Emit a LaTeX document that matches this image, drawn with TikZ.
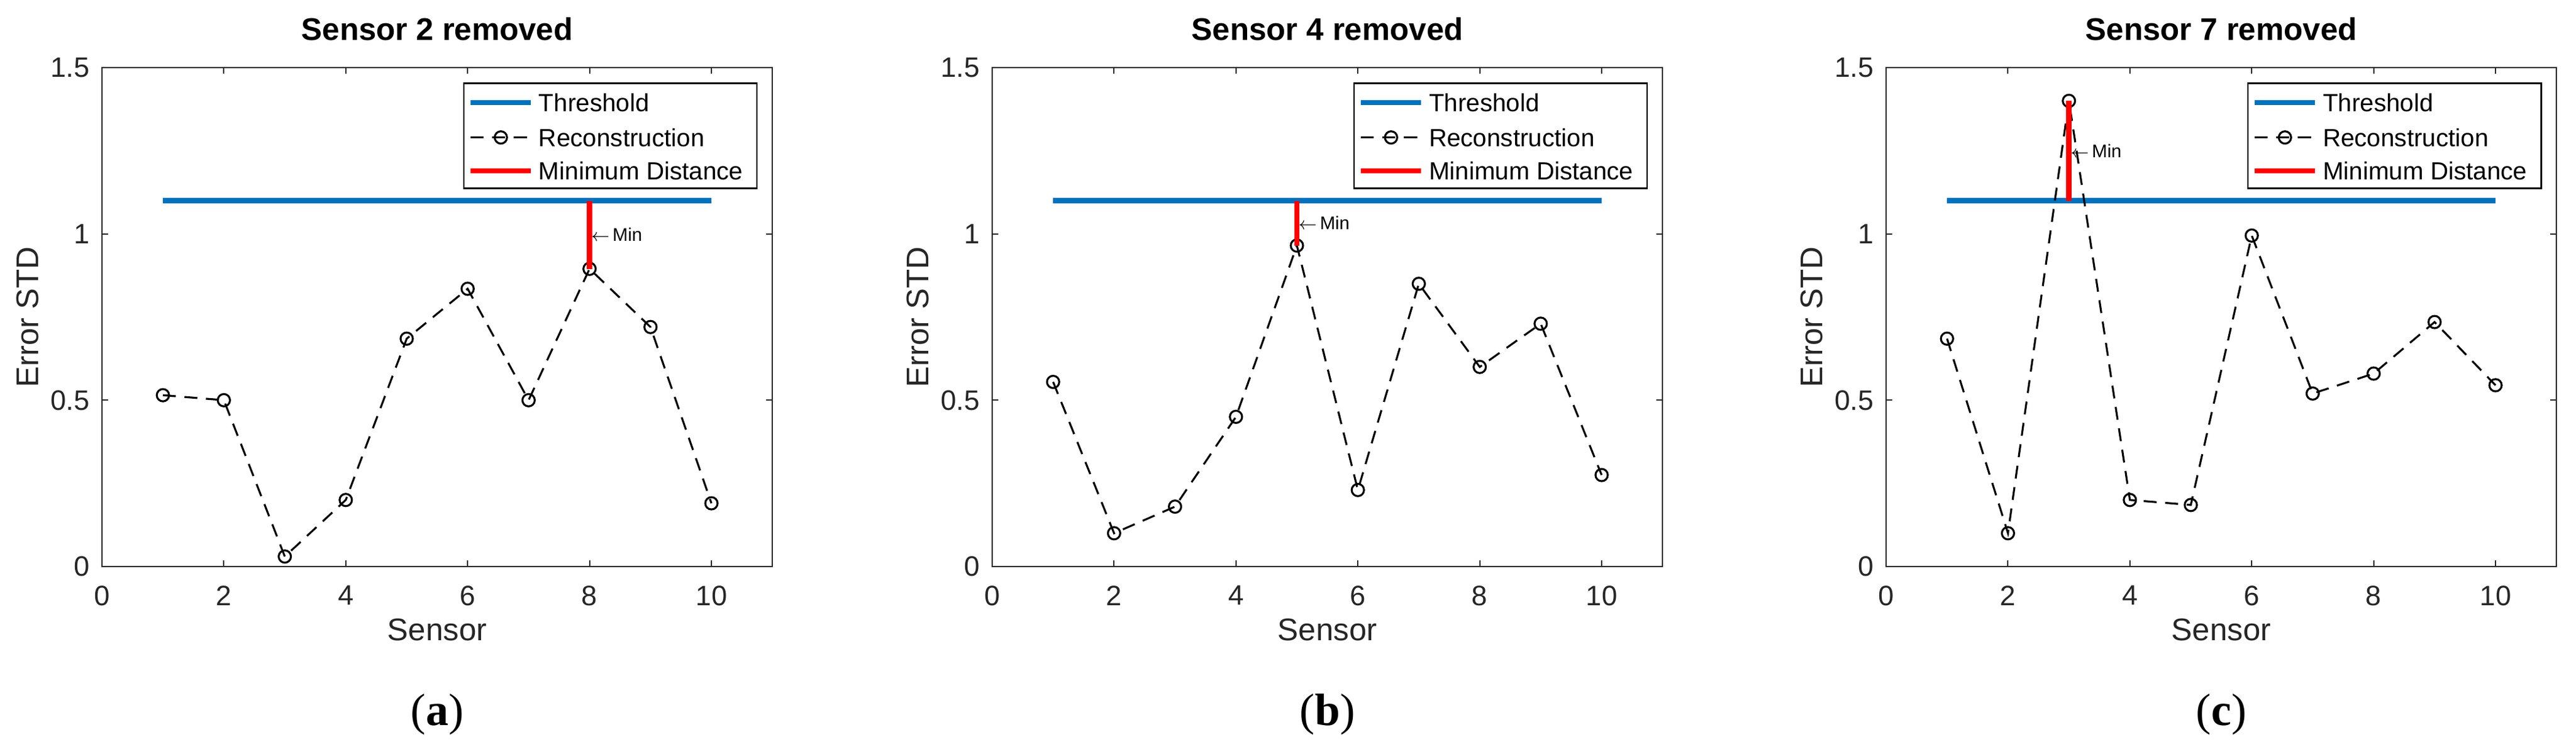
\documentclass[tikz,border=0pt]{standalone}
\usepackage{fontspec}
\setmainfont{Liberation Sans}
\newfontfamily\serifbf{Liberation Serif}
\definecolor{mblue}{RGB}{0,114,189}
\definecolor{axgray}{RGB}{38,38,38}
\tikzset{
  thr/.style={mblue,line width=2.4pt},
  rec/.style={black,line width=0.9pt,dash pattern=on 6pt off 4pt},
  mdist/.style={red,line width=2.4pt},
  mk/.style={black,line width=0.9pt},
  ticklab/.style={text=axgray,font=\fontsize{13}{15}\selectfont},
  axlab/.style={text=axgray,font=\fontsize{14.5}{17}\selectfont},
  ttl/.style={font=\bfseries\fontsize{14.5}{17}\selectfont},
  leg/.style={font=\fontsize{11.5}{13}\selectfont,anchor=west,inner sep=0pt},
}
\newcommand{\mypanel}[7]{%
\begin{scope}[shift={(#1cm,2.97cm)},x=0.992cm,y=5.413cm]
  \draw[axgray,line width=0.6pt] (0,0) rectangle (11,1.5);
  \foreach \t in {0,2,4,6,8,10}{
    \draw[axgray,line width=0.6pt] (\t,0) -- ++(0,0.018) (\t,1.5) -- ++(0,-0.018);
    \node[ticklab,anchor=north] at (\t,-0.035) {\t};}
  \foreach \t/\l in {0/0,0.5/0.5,1/1,1.5/1.5}{
    \draw[axgray,line width=0.6pt] (0,\t) -- ++(0.1,0) (11,\t) -- ++(-0.1,0);
    \node[ticklab,anchor=east] at (-0.08,\t) {\l};}
  \node[axlab] at (5.5,-0.19) {Sensor};
  \node[axlab,rotate=90] at (-1.22,0.75) {Error STD};
  \node[ttl] at (5.5,1.615) {#2};
  \draw[thr] (1,1.1) -- (10,1.1);
  \draw[rec] plot coordinates {#3};
  \foreach \px/\py in {#7}{\draw[mk] (\px,\py) circle[radius=0.1cm];}
  \draw[mdist] (#4,1.1) -- (#4,#5);
  \node[anchor=west,inner sep=0pt,font=\fontsize{8.5}{10}\selectfont] at ({#4+0.02},{(1.1+#5)/2}) {$\leftarrow$\,Min};
  \draw[black,line width=0.6pt,fill=white] (5.94,1.137) rectangle (10.75,1.453);
  \draw[thr] (6.05,1.395) -- (7.04,1.395);
  \node[leg] at (7.16,1.395) {Threshold};
  \draw[rec] (6.05,1.29) -- (7.04,1.29);
  \draw[mk] (6.545,1.29) circle[radius=0.1cm];
  \node[leg] at (7.16,1.29) {Reconstruction};
  \draw[mdist] (6.05,1.19) -- (7.04,1.19);
  \node[leg] at (7.16,1.19) {Minimum Distance};
  \node[font=\serifbf\fontsize{21}{24}\selectfont] at (5.5,-0.445) {(\textbf{#6})};
\end{scope}}
\begin{document}
\begin{tikzpicture}
\useasboundingbox (0,0) rectangle (41.93,12.19);
\fill[white] (0,0) rectangle (41.93,12.19);
\mypanel{1.66}{Sensor 2 removed}{(1,0.515) (2,0.5) (3,0.03) (4,0.2) (5,0.685) (6,0.835) (7,0.5) (8,0.895) (9,0.72) (10,0.19)}{8}{0.895}{a}{1/0.515,2/0.5,3/0.03,4/0.2,5/0.685,6/0.835,7/0.5,8/0.895,9/0.72,10/0.19}
\mypanel{16.15}{Sensor 4 removed}{(1,0.555) (2,0.1) (3,0.18) (4,0.45) (5,0.965) (6,0.23) (7,0.85) (8,0.60) (9,0.73) (10,0.275)}{5}{0.965}{b}{1/0.555,2/0.1,3/0.18,4/0.45,5/0.965,6/0.23,7/0.85,8/0.60,9/0.73,10/0.275}
\mypanel{30.70}{Sensor 7 removed}{(1,0.685) (2,0.10) (3,1.40) (4,0.20) (5,0.185) (6,0.995) (7,0.52) (8,0.58) (9,0.735) (10,0.545)}{3}{1.40}{c}{1/0.685,2/0.10,3/1.40,4/0.20,5/0.185,6/0.995,7/0.52,8/0.58,9/0.735,10/0.545}
\end{tikzpicture}
\end{document}
